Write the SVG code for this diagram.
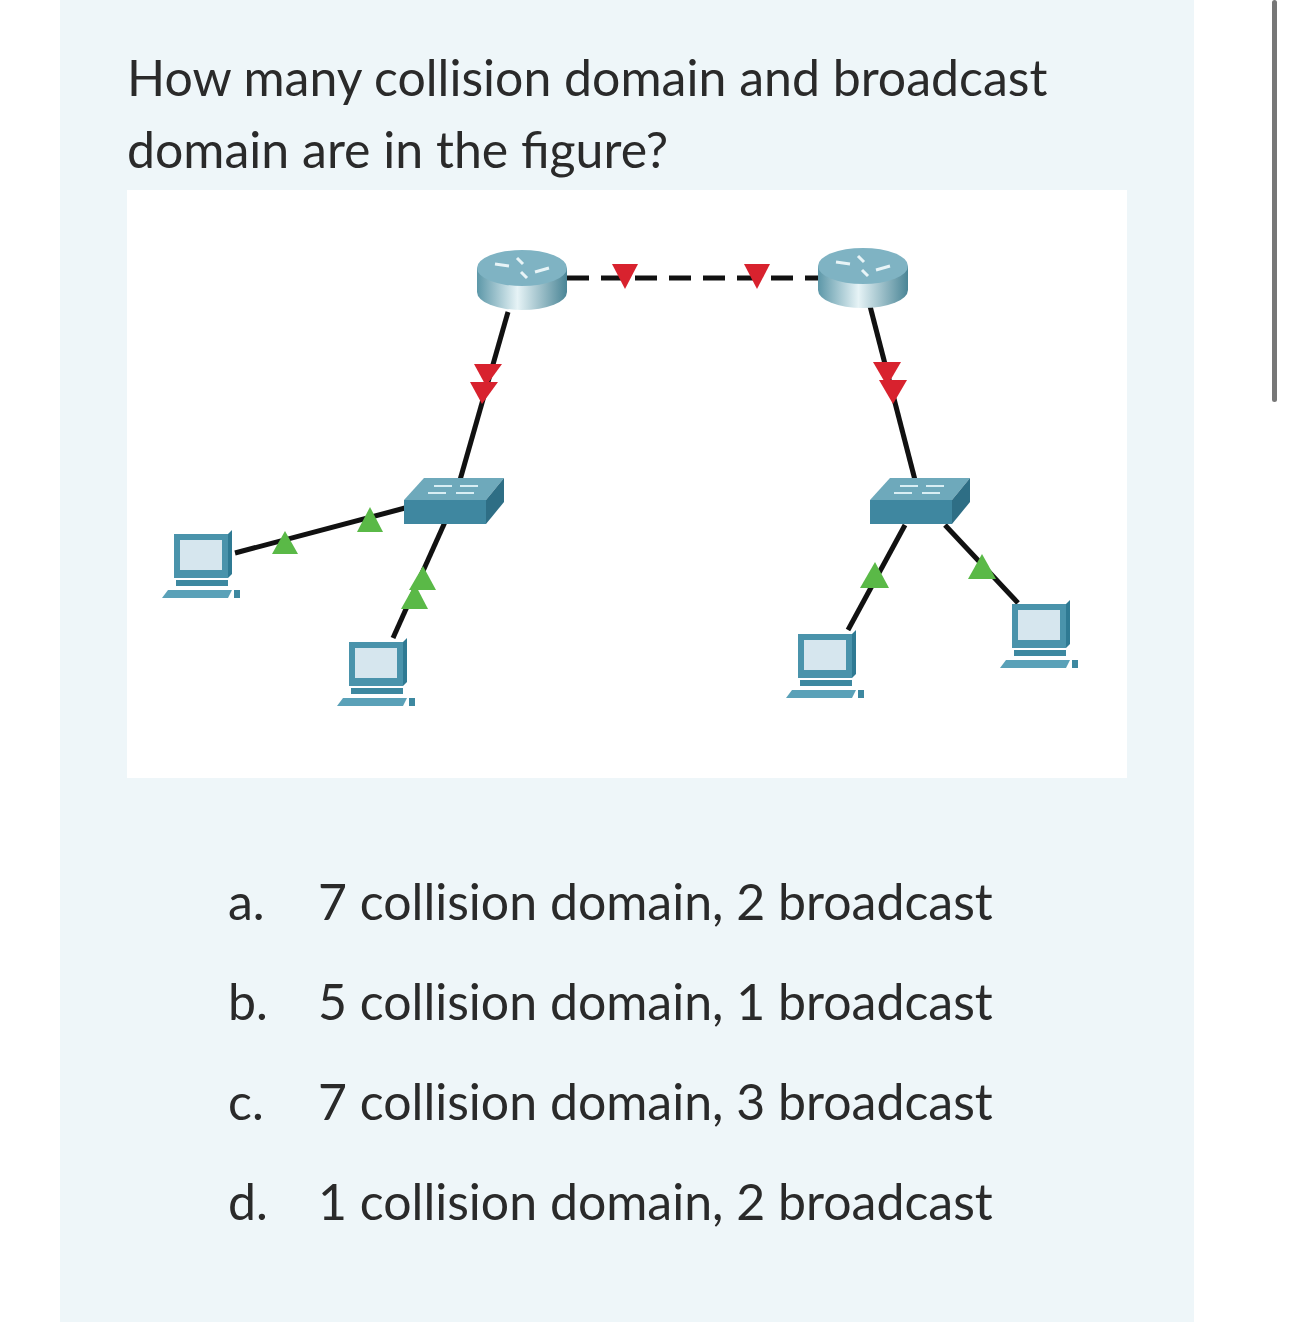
<svg xmlns="http://www.w3.org/2000/svg" width="1289" height="1332" viewBox="0 0 1289 1332">
<defs>
<style>
.q{font-family:Lato,"Liberation Sans",sans-serif;font-size:50px;fill:#2a2a2a}
.ln{stroke:#111;stroke-width:5;fill:none}
.red{fill:#d8222e}.grn{fill:#5ab947}
</style>
<linearGradient id="rg" x1="0" x2="1"><stop offset="0" stop-color="#5c97a8"/><stop offset="0.45" stop-color="#e6f3f6"/><stop offset="1" stop-color="#4a8596"/></linearGradient>
<symbol id="router" viewBox="0 0 90 60" overflow="visible">
<path d="M0 18 V42 A45 18 0 0 0 90 42 V18 Z" fill="url(#rg)"/>
<ellipse cx="45" cy="18" rx="45" ry="18" fill="#7fb3c3"/>
<path d="M18 14 l14 2 M58 22 l14 -4 M40 8 l6 6 M50 28 l-6 -6" stroke="#e8f4f7" stroke-width="3"/>
</symbol>
<symbol id="switch" viewBox="0 0 100 46" overflow="visible">
<polygon points="20,0 100,0 82,22 0,22" fill="#6ea9bb"/>
<polygon points="0,22 82,22 82,46 0,46" fill="#3f87a0"/>
<polygon points="82,22 100,0 100,24 82,46" fill="#2e6e85"/>
<path d="M30 8 h18 M56 8 h18 M24 15 h18 M52 15 h18" stroke="#d8eef4" stroke-width="2"/>
</symbol>
<symbol id="pc" viewBox="0 0 84 72" overflow="visible">
<polygon points="12,4 66,4 70,0 70,44 66,48 12,48" fill="#2f7a93"/>
<rect x="12" y="4" width="54" height="44" fill="#4a93ab"/>
<rect x="18" y="10" width="42" height="30" fill="#d6e6ee"/>
<rect x="14" y="50" width="52" height="6" fill="#3d88a0"/>
<polygon points="6,60 70,60 66,68 0,68" fill="#5aa1b8"/>
<rect x="72" y="60" width="6" height="8" fill="#3d88a0"/>
</symbol>
</defs>
<rect width="1289" height="1332" fill="#fff"/>
<rect x="60" y="0" width="1134" height="1322" fill="#eef6f9"/>
<rect x="1272" y="0" width="5" height="402" rx="2.5" fill="#777"/>
<text class="q" x="127" y="96">How many collision domain and broadcast</text>
<text class="q" x="127" y="168">domain are in the figure?</text>
<rect x="127" y="190" width="1000" height="588" fill="#fff"/>
<g id="connectors">
<line class="ln" x1="567" y1="278" x2="818" y2="278" stroke-dasharray="22,12"/>
<line class="ln" x1="508" y1="312" x2="460" y2="480"/>
<line class="ln" x1="870" y1="306" x2="915" y2="480"/>
<line class="ln" x1="405" y1="508" x2="235" y2="553"/>
<line class="ln" x1="445" y1="522" x2="393" y2="638"/>
<line class="ln" x1="905" y1="525" x2="848" y2="630"/>
<line class="ln" x1="945" y1="525" x2="1018" y2="603"/>
<polygon class="red" points="612,264 638,264 625,289"/>
<polygon class="red" points="744,264 770,264 757,289"/>
<polygon class="red" points="474,364 502,364 486,386"/>
<polygon class="red" points="470,382 498,382 482,404"/>
<polygon class="red" points="873,362 901,362 887,386"/>
<polygon class="red" points="879,380 907,380 893,404"/>
<polygon class="grn" points="285,531 272,554 298,554"/>
<polygon class="grn" points="370,507 357,532 383,532"/>
<polygon class="grn" points="423,566 409,590 436,590"/>
<polygon class="grn" points="415,584 401,609 428,609"/>
<polygon class="grn" points="875,562 860,588 889,588"/>
<polygon class="grn" points="982,554 968,579 996,579"/>
</g>
<g id="router1"><use href="#router" x="477" y="250" width="90" height="60"/></g>
<g id="router2"><use href="#router" x="818" y="248" width="90" height="60"/></g>
<g id="switch1"><use href="#switch" x="404" y="478" width="100" height="46"/></g>
<g id="switch2"><use href="#switch" x="870" y="478" width="100" height="46"/></g>
<g id="pc1"><use href="#pc" x="162" y="530" width="84" height="72"/></g>
<g id="pc2"><use href="#pc" x="337" y="638" width="84" height="72"/></g>
<g id="pc3"><use href="#pc" x="786" y="630" width="84" height="72"/></g>
<g id="pc4"><use href="#pc" x="1000" y="600" width="84" height="72"/></g>
<text class="q" x="228" y="920">a.</text><text class="q" x="318" y="920">7 collision domain, 2 broadcast</text>
<text class="q" x="228" y="1020">b.</text><text class="q" x="318" y="1020">5 collision domain, 1 broadcast</text>
<text class="q" x="228" y="1120">c.</text><text class="q" x="318" y="1120">7 collision domain, 3 broadcast</text>
<text class="q" x="228" y="1220">d.</text><text class="q" x="318" y="1220">1 collision domain, 2 broadcast</text>
</svg>
